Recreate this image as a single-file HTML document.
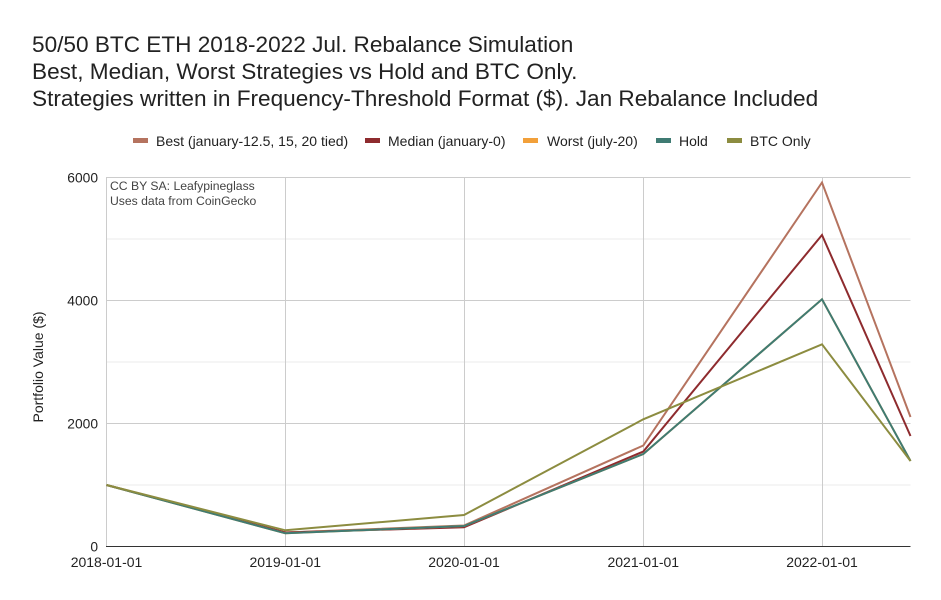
<!DOCTYPE html>
<html><head><meta charset="utf-8"><style>
html,body{margin:0;padding:0;background:#fff;}
svg{display:block;font-family:"Liberation Sans",Arial,sans-serif;}
</style></head><body>
<svg width="941" height="600" viewBox="0 0 941 600" xmlns="http://www.w3.org/2000/svg">
<rect width="941" height="600" fill="#fff"/>
<g fill="#222" font-size="22.6">
<text x="32" y="52">50/50 BTC ETH 2018-2022 Jul. Rebalance Simulation</text>
<text x="32" y="79">Best, Median, Worst Strategies vs Hold and BTC Only.</text>
<text x="32" y="106">Strategies written in Frequency-Threshold Format ($). Jan Rebalance Included</text>
</g>
<g font-size="14" fill="#222">
<rect x="133" y="138" width="15" height="5" fill="#b5735f"/>
<text x="156" y="146">Best (january-12.5, 15, 20 tied)</text>
<rect x="365" y="138" width="15" height="5" fill="#8e2b2e"/>
<text x="388" y="146">Median (january-0)</text>
<rect x="523" y="138" width="15" height="5" fill="#f2a03a"/>
<text x="547" y="146">Worst (july-20)</text>
<rect x="656" y="138" width="15" height="5" fill="#3f7b73"/>
<text x="679" y="146">Hold</text>
<rect x="727" y="138" width="15" height="5" fill="#8c8c40"/>
<text x="750" y="146">BTC Only</text>
</g>
<g stroke="#ebebeb" stroke-width="1">
<line x1="106.5" y1="485" x2="910.5" y2="485"/>
<line x1="106.5" y1="362" x2="910.5" y2="362"/>
<line x1="106.5" y1="239" x2="910.5" y2="239"/>
</g>
<g stroke="#cccccc" stroke-width="1">
<line x1="106.5" y1="423.5" x2="910.5" y2="423.5"/>
<line x1="106.5" y1="300.5" x2="910.5" y2="300.5"/>
<line x1="106.5" y1="177.5" x2="910.5" y2="177.5"/>
<line x1="106.5" y1="177" x2="106.5" y2="546"/>
<line x1="285.5" y1="177" x2="285.5" y2="546"/>
<line x1="464.5" y1="177" x2="464.5" y2="546"/>
<line x1="643.5" y1="177" x2="643.5" y2="546"/>
<line x1="822.5" y1="177" x2="822.5" y2="546"/>
</g>
<line x1="106" y1="546.5" x2="910.5" y2="546.5" stroke="#333" stroke-width="1"/>
<g font-size="12.2" fill="#444">
<text x="110" y="190">CC BY SA: Leafypineglass</text>
<text x="110" y="205">Uses data from CoinGecko</text>
</g>
<g fill="none" stroke-width="2" stroke-linejoin="miter">
<polyline stroke="#b5735f" points="106.5,485 285.3,532.5 464,525.5 643.3,445.5 822,182.5 910.5,417"/>
<polyline stroke="#8e2b2e" points="106.5,485 285.3,532.5 464,527.3 643.3,451.5 822,235 910.5,436"/>
<polyline stroke="#f2a03a" points="106.5,485 285.3,533.3 464,526 643.3,454 822,299.3 910.5,461"/>
<polyline stroke="#3f7b73" points="106.5,485 285.3,533.3 464,526 643.3,454 822,299.3 910.5,461"/>
<polyline stroke="#8c8c40" points="106.5,485 285.3,530.3 464,515 643.3,419.3 822,344.3 910.5,461"/>
</g>
<g font-size="13.8" fill="#222" text-anchor="end">
<text x="98" y="551.5">0</text>
<text x="98" y="428.5">2000</text>
<text x="98" y="305.5">4000</text>
<text x="98" y="182.5">6000</text>
</g>
<g font-size="14" fill="#222" text-anchor="middle">
<text x="106.5" y="567">2018-01-01</text>
<text x="285.3" y="567">2019-01-01</text>
<text x="464" y="567">2020-01-01</text>
<text x="643.3" y="567">2021-01-01</text>
<text x="822" y="567">2022-01-01</text>
</g>
<text transform="translate(43,367) rotate(-90)" font-size="14" fill="#222" text-anchor="middle">Portfolio Value ($)</text>
</svg>
</body></html>
